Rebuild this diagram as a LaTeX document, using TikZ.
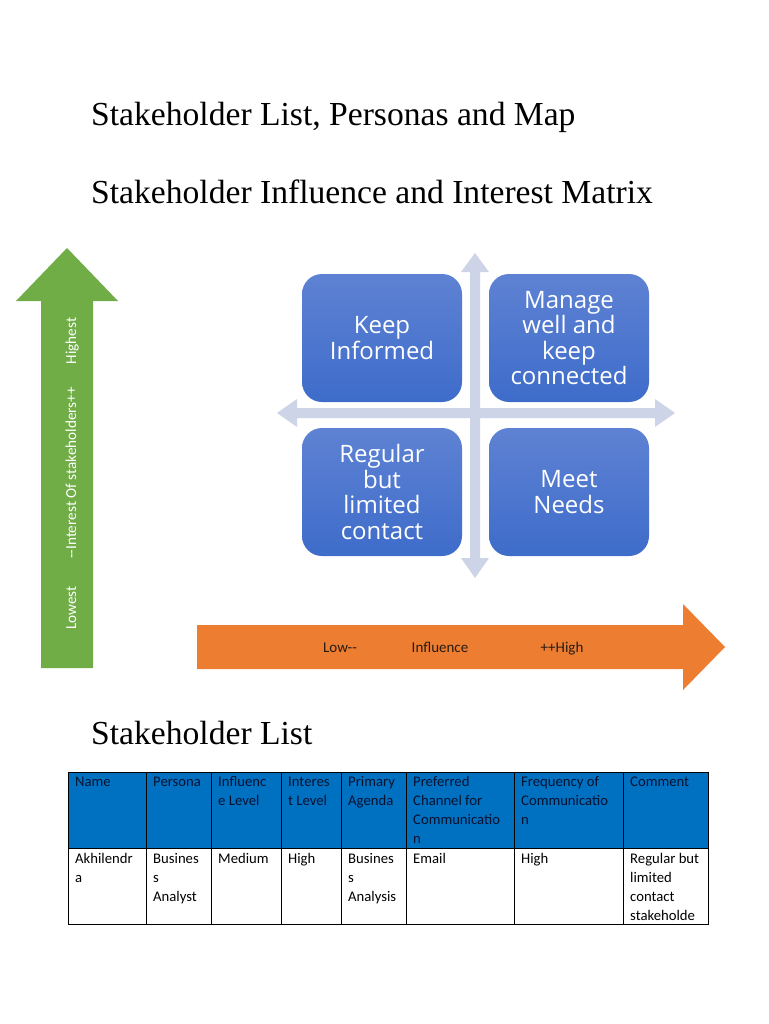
\documentclass[tikz,border=0pt]{standalone}
\usepackage{fontspec}
\setmainfont{Liberation Serif}
\newfontfamily\calfont{Carlito}
\newfontfamily\boxfont{Open Sans}
\definecolor{greenarrow}{RGB}{112,173,71}
\definecolor{orangearrow}{RGB}{237,125,49}
\definecolor{crossclr}{RGB}{206,212,232}
\definecolor{boxtop}{RGB}{94,130,211}
\definecolor{boxbot}{RGB}{62,108,202}
\definecolor{headblue}{RGB}{0,112,192}
\definecolor{headtext}{RGB}{8,18,48}
\definecolor{orangetext}{RGB}{40,28,18}
\begin{document}
\begin{tikzpicture}[x=1pt,y=-1pt,
  title/.style={anchor=base west,inner sep=0pt,font=\fontsize{33.6}{40}\selectfont},
  quad/.style={rounded corners=20pt,top color=boxtop,bottom color=boxbot,draw=none},
  quadtext/.style={align=center,text=white,font=\boxfont\fontsize{24}{25.6}\selectfont,inner sep=0pt},
  axtext/.style={anchor=base,text=white,font=\calfont\fontsize{15.2}{18}\selectfont,inner sep=0pt,rotate=90},
  inftext/.style={anchor=base,text=orangetext,font=\calfont\fontsize{15}{18}\selectfont,inner sep=0pt},
  cell/.style={anchor=north west,inner sep=0pt,align=left,font=\calfont\fontsize{14.7}{19}\selectfont},
  hcell/.style={cell,text=headtext},
  grid/.style={draw=black,line width=0.8pt}]
\useasboundingbox (0,0) rectangle (768,1024);
\fill[white] (0,0) rectangle (768,1024);

% titles
\node[title] (t1) at (91,126) {Stakeholder List, Personas and Map};
\node[title] (t2) at (91,204) {Stakeholder Influence and Interest Matrix};
\node[title] (t3) at (91,744) {Stakeholder List};

% green arrow
\fill[greenarrow] (41,668) -- (41,301) -- (16,301) -- (67,248) -- (118,301) -- (93,301) -- (93,668) -- cycle;
\node[axtext] (lowest) at (76,608) {Lowest};
\node[axtext] (interest) at (76,473) {-{}-Interest Of stakeholders++};
\node[axtext] (highest) at (76,341) {Highest};

% orange arrow
\fill[orangearrow] (197,625) -- (683,625) -- (683,604) -- (725,647) -- (683,690) -- (683,669) -- (197,669) -- cycle;
\node[inftext] (low) at (340,652) {Low-{}-};
\node[inftext] (infl) at (440,652) {Influence};
\node[inftext] (high) at (562,652) {++High};

% cross arrows
\fill[crossclr] (470,272) -- (461,272) -- (475,253) -- (489,272) -- (480,272) -- (480,408)
  -- (655,408) -- (655,399) -- (675,413) -- (655,427) -- (655,418) -- (480,418)
  -- (480,558) -- (489,558) -- (475,578) -- (461,558) -- (470,558) -- (470,418)
  -- (297,418) -- (297,427) -- (277,413) -- (297,399) -- (297,408) -- (470,408) -- cycle;

% quadrant boxes
\shade[quad] (302,274) rectangle (462,402);
\shade[quad] (489,274) rectangle (649,402);
\shade[quad] (302,428) rectangle (462,556);
\shade[quad] (489,428) rectangle (649,556);
\node[quadtext] (qtl) at (382,338) {Keep\\Informed};
\node[quadtext] (qtr) at (569,338) {Manage\\well and\\keep\\connected};
\node[quadtext] (qbl) at (382,492) {Regular\\but\\limited\\contact};
\node[quadtext] (qbr) at (569,492) {Meet\\Needs};

% table
\fill[headblue] (68,772) rectangle (708,848);
\draw[grid] (68,772) rectangle (708,924);
\draw[grid] (68,848) -- (708,848);
\foreach \cx in {146,211,281,341,406,514,623} \draw[grid] (\cx,772) -- (\cx,924);

\node[hcell] (h1) at (75,774) {\rule{0pt}{12pt}Name};
\node[hcell] (h2) at (153,774) {\rule{0pt}{12pt}Persona};
\node[hcell] (h3) at (218,774) {\rule{0pt}{12pt}Influenc\\e Level};
\node[hcell] (h4) at (288,774) {\rule{0pt}{12pt}Interes\\t Level};
\node[hcell] (h5) at (348,774) {\rule{0pt}{12pt}Primary\\Agenda};
\node[hcell] (h6) at (413,774) {\rule{0pt}{12pt}Preferred\\Channel for\\Communicatio\\n};
\node[hcell] (h7) at (521,774) {\rule{0pt}{12pt}Frequency of\\Communicatio\\n};
\node[hcell] (h8) at (630,774) {\rule{0pt}{12pt}Comment};

\node[cell] (b1) at (75,851) {\rule{0pt}{12pt}Akhilendr\\a};
\node[cell] (b2) at (153,851) {\rule{0pt}{12pt}Busines\\s\\Analyst};
\node[cell] (b3) at (218,851) {\rule{0pt}{12pt}Medium};
\node[cell] (b4) at (288,851) {\rule{0pt}{12pt}High};
\node[cell] (b5) at (348,851) {\rule{0pt}{12pt}Busines\\s\\Analysis};
\node[cell] (b6) at (413,851) {\rule{0pt}{12pt}Email};
\node[cell] (b7) at (521,851) {\rule{0pt}{12pt}High};
\node[cell] (b8) at (630,851) {\rule{0pt}{12pt}Regular but\\limited\\contact\\stakeholde};
\end{tikzpicture}
\end{document}
